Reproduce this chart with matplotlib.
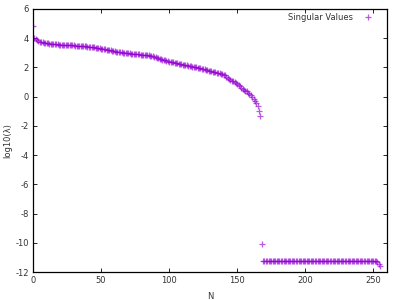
import matplotlib
matplotlib.use("Agg")
import matplotlib.pyplot as plt
import numpy as np

plt.rcParams['axes.unicode_minus'] = False
plt.rcParams['font.family'] = ['DejaVu Sans']

# log10 of singular values, index N = 0..255
head_values = [
    4.81, 4.01, 3.93, 3.86, 3.80, 3.76, 3.73, 3.71, 3.69, 3.67,
    3.66, 3.64, 3.63, 3.62, 3.61, 3.60, 3.59, 3.58, 3.58, 3.57,
    3.56, 3.56, 3.55, 3.55, 3.54, 3.54, 3.53, 3.52, 3.52, 3.51,
    3.51, 3.50, 3.50, 3.49, 3.49, 3.48, 3.47, 3.46, 3.45, 3.44,
    3.43, 3.42, 3.41, 3.40, 3.38, 3.37, 3.35, 3.33, 3.32, 3.30,
    3.29, 3.27, 3.25, 3.23, 3.21, 3.20, 3.18, 3.16, 3.14, 3.12,
    3.11, 3.09, 3.08, 3.07, 3.05, 3.04, 3.02, 3.01, 3.00, 2.98,
    2.97, 2.96, 2.95, 2.94, 2.93, 2.92, 2.91, 2.90, 2.89, 2.88,
    2.87, 2.87, 2.86, 2.85, 2.84, 2.82, 2.80, 2.78, 2.75, 2.72,
    2.69, 2.66, 2.63, 2.60, 2.57, 2.54, 2.51, 2.48, 2.45, 2.42,
    2.40, 2.38, 2.36, 2.34, 2.32, 2.30, 2.28, 2.26, 2.24, 2.22,
    2.20, 2.18, 2.16, 2.14, 2.12, 2.10, 2.08, 2.06, 2.04, 2.02,
    2.00, 1.98, 1.96, 1.93, 1.91, 1.88, 1.86, 1.83, 1.81, 1.78,
    1.76, 1.74, 1.71, 1.69, 1.66, 1.64, 1.61, 1.59, 1.56, 1.53,
    1.50, 1.45, 1.38, 1.30, 1.22, 1.15, 1.10, 1.04, 0.98, 0.92,
    0.85, 0.78, 0.70, 0.62, 0.55, 0.48, 0.42, 0.36, 0.28, 0.20,
    0.10, -0.02, -0.15, -0.33, -0.45, -0.62, -0.95, -1.35,
    -10.09,
]
tail_values = [
    -11.28, -11.28, -11.28, -11.28, -11.28, -11.28, -11.28, -11.28, -11.28, -11.28,
    -11.28, -11.28, -11.28, -11.28, -11.28, -11.28, -11.28, -11.28, -11.28, -11.28,
    -11.28, -11.28, -11.28, -11.28, -11.28, -11.28, -11.28, -11.28, -11.28, -11.28,
    -11.28, -11.28, -11.28, -11.28, -11.28, -11.28, -11.28, -11.28, -11.28, -11.28,
    -11.28, -11.28, -11.28, -11.28, -11.28, -11.28, -11.28, -11.28, -11.28, -11.28,
    -11.28, -11.28, -11.28, -11.28, -11.28, -11.28, -11.28, -11.28, -11.28, -11.28,
    -11.28, -11.28, -11.28, -11.28, -11.28, -11.28, -11.28, -11.28, -11.28, -11.28,
    -11.28, -11.28, -11.28, -11.28, -11.28, -11.28, -11.28, -11.28, -11.28, -11.28,
    -11.28, -11.28, -11.28, -11.28, -11.30,
    -11.43, -11.60,
]
log_sv = head_values + tail_values
N = list(range(len(log_sv)))

x_ticks = [0, 50, 100, 150, 200, 250]
y_ticks = [-12, -10, -8, -6, -4, -2, 0, 2, 4, 6]

fig = plt.figure(figsize=(4, 3), dpi=100)
ax = fig.add_axes([0.0825, 0.0933, 0.885, 0.8767])
ax.plot(N, log_sv, linestyle='none', marker='+', markersize=4.5,
        markeredgewidth=0.9, color='#9400d3', alpha=0.65, label='Singular Values')
ax.set_xlim(0, 260)
ax.set_ylim(-12, 6)
ax.set_xticks(x_ticks)
ax.set_yticks(y_ticks)
ax.tick_params(direction='in', length=3, width=0.6, labelsize=6, pad=3,
               top=True, right=True, colors='black', labelcolor='#333333')
for s in ax.spines.values():
    s.set_linewidth(0.9)
ax.set_xlabel('N', fontsize=6, color='#333333', labelpad=5)
ax.set_ylabel('log10(λ)', fontsize=6, color='#333333')
ax.yaxis.set_label_coords(-0.058, 0.5)
leg = ax.legend(loc='upper right', bbox_to_anchor=(0.9726, 0.996), frameon=False,
                markerfirst=False, fontsize=6, handlelength=1.5,
                borderaxespad=0.0, handletextpad=1.0)
for t in leg.get_texts():
    t.set_color('#333333')
fig.savefig('out.png', dpi=100)
